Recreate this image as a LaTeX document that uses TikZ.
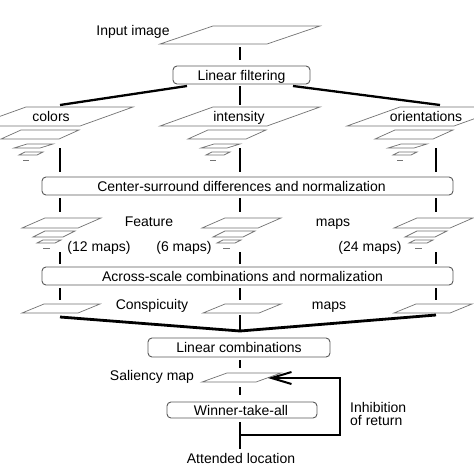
\documentclass[tikz,border=0pt]{standalone}
\usepackage{fontspec}
\setmainfont{Liberation Sans}
\usetikzlibrary{arrows.meta}
\newcommand{\pgm}[5]{\draw[pgline] (#1,#2) -- ++(#3,0) -- ++(#4,-#5) -- ++(-#3,0) -- cycle;}
\begin{document}
\begin{tikzpicture}[x=1pt,y=-1pt,
  font=\fontsize{14}{16}\selectfont,
  conn/.style={line width=2.3pt, draw=black},
  thickconn/.style={line width=2.8pt, draw=black},
  pgline/.style={draw=black!55, line width=0.7pt},
  box/.style={draw=black!65, line width=0.9pt, rounded corners=4pt, fill=white, inner sep=0pt, text height=10pt, text depth=0pt},
  lbl/.style={inner sep=0pt, anchor=base},
  fbarrow/.style={line width=2pt, draw=black, -{Straight Barb[length=20pt, width=12pt]}}
]
\useasboundingbox (0,0) rectangle (474,474);
\clip (0,0) rectangle (474,474);
\fill[white] (0,0) rectangle (474,474);

% ---------- map stacks ----------
\pgm{160}{44}{107}{53}{18}
\foreach \s in {-187,0,187}{
  \begin{scope}[xshift=\s pt]
    \pgm{160}{126}{107}{53}{19}
    \pgm{188}{139}{58}{20}{9}
    \pgm{201}{148}{26}{13}{4}
    \pgm{206}{155}{18}{6}{3}
    \draw[pgline] (210,160) -- (216,160);
  \end{scope}
}
\foreach \s in {-180,0,192}{
  \begin{scope}[xshift=\s pt]
    \pgm{202}{228}{56}{23}{10}
    \pgm{213}{237}{30}{12}{6}
    \pgm{217}{243}{18}{6}{3}
    \draw[pgline] (223,248) -- (230,248);
  \end{scope}
}
\foreach \s in {-181,0,191}{
  \begin{scope}[xshift=\s pt]
    \pgm{203}{313}{56}{22}{9}
  \end{scope}
}
\pgm{202}{382}{54}{25}{9}

% ---------- boxes ----------
\node[box, minimum width=137pt, minimum height=18pt] (lf) at (241.5,75) {Linear filtering};
\node[box, minimum width=411pt, minimum height=18pt] (cs) at (247.5,186) {\hspace*{-12pt}Center-surround differences and normalization};
\node[box, minimum width=411pt, minimum height=18pt] (as) at (247.5,276) {\hspace*{-10pt}Across-scale combinations and normalization};
\node[box, minimum width=182pt, minimum height=19pt] (lc) at (239,347.5) {Linear combinations};
\node[box, minimum width=150pt, minimum height=16pt] (wta) at (242,410) {\hspace*{-2pt}Winner-take-all};

% ---------- labels ----------
\node[lbl] (tIn) at (133,35) {Input image};
\node[lbl] (tCol) at (51,121) {colors};
\node[lbl] (tInt) at (239,121) {intensity};
\node[lbl] (tOri) at (426,121) {orientations};
\node[lbl] (tFeat) at (149,226) {Feature};
\node[lbl] (tMaps1) at (333,226) {maps};
\node[lbl] (t12) at (99,251) {(12 maps)};
\node[lbl] (t6) at (184,251) {(6 maps)};
\node[lbl] (t24) at (370,251) {(24 maps)};
\node[lbl] (tCons) at (152,309) {Conspicuity};
\node[lbl] (tMaps2) at (329,309) {maps};
\node[lbl] (tSal) at (152,380) {Saliency map};
\node[lbl, anchor=north west, align=left, font=\fontsize{14}{13.5}\selectfont] (tInh) at (350,402) {Inhibition\\of return};
\node[lbl] (att) at (241,463) {Attended location};

% ---------- connectors ----------
\coordinate (inB) at (240,47);
\draw[conn, shorten >=6pt] (inB) -- (inB |- lf.north);
\coordinate (lfL) at (187,86);
\coordinate (lfC) at (240,86);
\coordinate (lfR) at (293,86);
\coordinate (colT) at (60,105);
\coordinate (intT) at (240,105);
\coordinate (oriT) at (440,105);
\draw[conn] (lfL) -- (colT);
\draw[conn] (lfC) -- (intT);
\draw[conn] (lfR) -- (oriT);

\foreach \n/\x in {col/60, int/240, ori/436}{
  \coordinate (\n-B) at (\x,148);
  \draw[conn, shorten >=5pt] (\n-B) -- (\n-B |- cs.north);
  \coordinate (\n-Ft) at (\x,212);
  \draw[conn, shorten <=3pt] (\n-Ft |- cs.south) -- (\n-Ft);
  \coordinate (\n-Fb) at (\x,252);
  \draw[conn, shorten >=3pt] (\n-Fb) -- (\n-Fb |- as.north);
  \coordinate (\n-Ct) at (\x,300);
  \draw[conn, shorten <=3pt] (\n-Ct |- as.south) -- (\n-Ct);
}

\coordinate (conv) at (240,331);
\coordinate (colCb) at (60,317);
\coordinate (intCb) at (240,315);
\coordinate (oriCb) at (436,315);
\draw[thickconn] (colCb) -- (conv);
\draw[thickconn] (oriCb) -- (conv);
\draw[conn] (intCb) -- (conv);

\coordinate (sT) at (240,368);
\draw[conn, shorten <=3pt] (sT |- lc.south) -- (sT);
\coordinate (sB) at (240,387);
\draw[conn, shorten >=7pt] (sB) -- (sB |- wta.north);
\draw[conn, shorten <=4pt, shorten >=4pt] (wta.south -| sB) -- (att.north -| sB);

\coordinate (fbA) at (240,435);
\coordinate (fbC) at (340,378);
\coordinate (sR) at (268,378);
\draw[fbarrow] (fbA) -| (fbC) -- (sR);
\end{tikzpicture}
\end{document}
